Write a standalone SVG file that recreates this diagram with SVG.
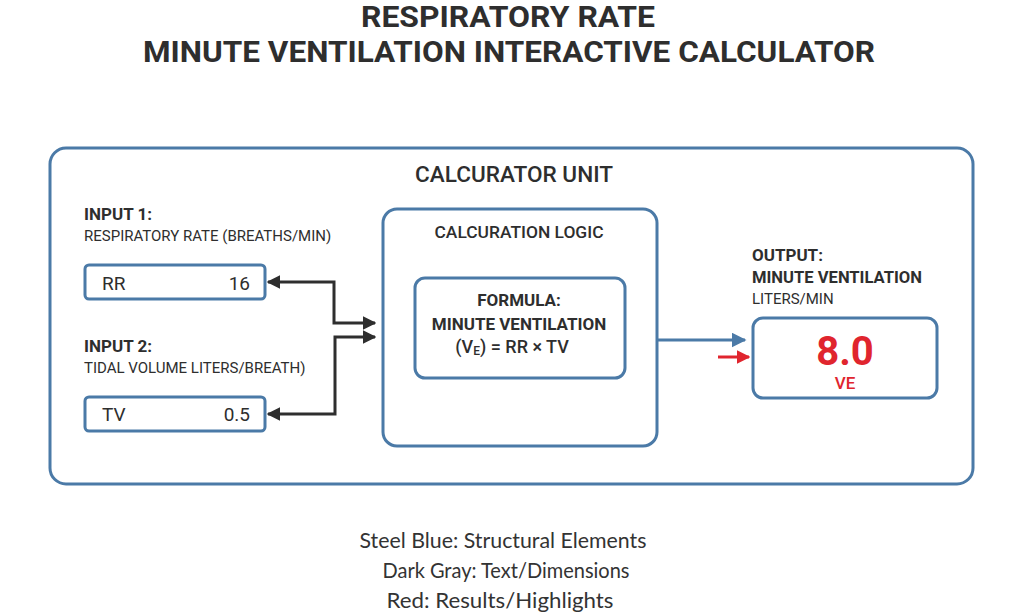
<svg xmlns="http://www.w3.org/2000/svg" width="1024" height="615" viewBox="0 0 1024 615">
<defs>
<style>
.box{fill:#fff;stroke:#4b7aa7;stroke-width:3}
.t{font-family:Roboto,"Liberation Sans",sans-serif;fill:#2e2e2e}
.b{font-weight:bold}
.lg{font-family:Lato,"Open Sans",sans-serif;fill:#333;font-size:21px}
.conn{fill:none;stroke:#2e2e2e;stroke-width:3}
</style>
<marker id="ah" viewBox="0 0 10 10" refX="9" refY="5" markerWidth="4.5" markerHeight="4.5" orient="auto-start-reverse" markerUnits="strokeWidth"><path d="M0,0 L10,5 L0,10 z" fill="#2e2e2e"/></marker>
<marker id="ahb" viewBox="0 0 10 10" refX="9" refY="5" markerWidth="5" markerHeight="5" orient="auto" markerUnits="strokeWidth"><path d="M0,0 L10,5 L0,10 z" fill="#4b7aa7"/></marker>
<marker id="ahr" viewBox="0 0 10 10" refX="9" refY="5" markerWidth="4.5" markerHeight="4.5" orient="auto" markerUnits="strokeWidth"><path d="M0,0 L10,5 L0,10 z" fill="#e0252e"/></marker>
</defs>
<rect width="1024" height="615" fill="#fff"/>
<g id="title">
<text class="t b" x="508" y="27" font-size="29" text-anchor="middle" textLength="294" lengthAdjust="spacingAndGlyphs">RESPIRATORY RATE</text>
<text class="t b" x="509" y="62" font-size="29" text-anchor="middle" textLength="732" lengthAdjust="spacingAndGlyphs">MINUTE VENTILATION INTERACTIVE CALCULATOR</text>
</g>
<g id="calculator-unit">
<rect class="box" x="50" y="148" width="923" height="336" rx="16"/>
<text class="t" x="514" y="182" font-size="22" text-anchor="middle" font-weight="500" textLength="198" lengthAdjust="spacingAndGlyphs">CALCURATOR UNIT</text>
</g>
<g id="input1">
<text class="t b" x="84" y="220" font-size="17">INPUT 1:</text>
<text class="t" x="84" y="241" font-size="15">RESPIRATORY RATE (BREATHS/MIN)</text>
<rect class="box" x="85" y="265" width="180" height="34" rx="4"/>
<text class="t" x="102" y="290" font-size="19">RR</text>
<text class="t" x="250" y="290" font-size="19" text-anchor="end">16</text>
</g>
<g id="input2">
<text class="t b" x="84" y="352" font-size="17">INPUT 2:</text>
<text class="t" x="84" y="373" font-size="15">TIDAL VOLUME LITERS/BREATH)</text>
<rect class="box" x="85" y="397" width="180" height="34" rx="4"/>
<text class="t" x="102" y="421" font-size="19">TV</text>
<text class="t" x="250" y="421" font-size="19" text-anchor="end">0.5</text>
</g>
<g id="calculation-logic">
<rect class="box" x="383" y="209" width="274" height="237" rx="14"/>
<text class="t" x="519" y="238" font-size="17" text-anchor="middle" font-weight="500" textLength="169" lengthAdjust="spacingAndGlyphs">CALCURATION LOGIC</text>
</g>
<g id="formula">
<rect class="box" x="415" y="278" width="210" height="100" rx="10"/>
<text class="t b" x="519" y="306" font-size="17" text-anchor="middle">FORMULA:</text>
<text class="t b" x="519" y="330" font-size="17" text-anchor="middle">MINUTE VENTILATION</text>
<text class="t" x="512" y="353" font-size="18" text-anchor="middle" font-weight="500">(V<tspan font-size="12" dy="2">E</tspan><tspan dy="-2">) = RR × TV</tspan></text>
</g>
<g id="output">
<text class="t b" x="752" y="261" font-size="17">OUTPUT:</text>
<text class="t b" x="752" y="283" font-size="17" textLength="170" lengthAdjust="spacingAndGlyphs">MINUTE VENTILATION</text>
<text class="t" x="752" y="304" font-size="15">LITERS/MIN</text>
<rect class="box" x="753" y="318" width="184" height="80" rx="10"/>
<text class="t b" x="845" y="365" font-size="40" text-anchor="middle" style="fill:#e0252e">8.0</text>
<text class="t" x="845" y="389" font-size="17" text-anchor="middle" font-weight="500" style="fill:#e0252e">VE</text>
</g>
<g id="connectors">
<path class="conn" d="M268,282 H334 V323 H375" marker-start="url(#ah)" marker-end="url(#ah)"/>
<path class="conn" d="M268,414 H335 V337 H375" marker-start="url(#ah)" marker-end="url(#ah)"/>
<path d="M657,340 H745" fill="none" stroke="#4b7aa7" stroke-width="3" marker-end="url(#ahb)"/>
<path d="M718,357 H749" fill="none" stroke="#e0252e" stroke-width="3" marker-end="url(#ahr)"/>
</g>
<g id="legend">
<text class="lg" x="503" y="548" text-anchor="middle" textLength="287" lengthAdjust="spacingAndGlyphs">Steel Blue: Structural Elements</text>
<text class="lg" x="506" y="578" text-anchor="middle" textLength="247" lengthAdjust="spacingAndGlyphs">Dark Gray: Text/Dimensions</text>
<text class="lg" x="500" y="608" text-anchor="middle" textLength="227" lengthAdjust="spacingAndGlyphs">Red: Results/Highlights</text>
</g>
</svg>
